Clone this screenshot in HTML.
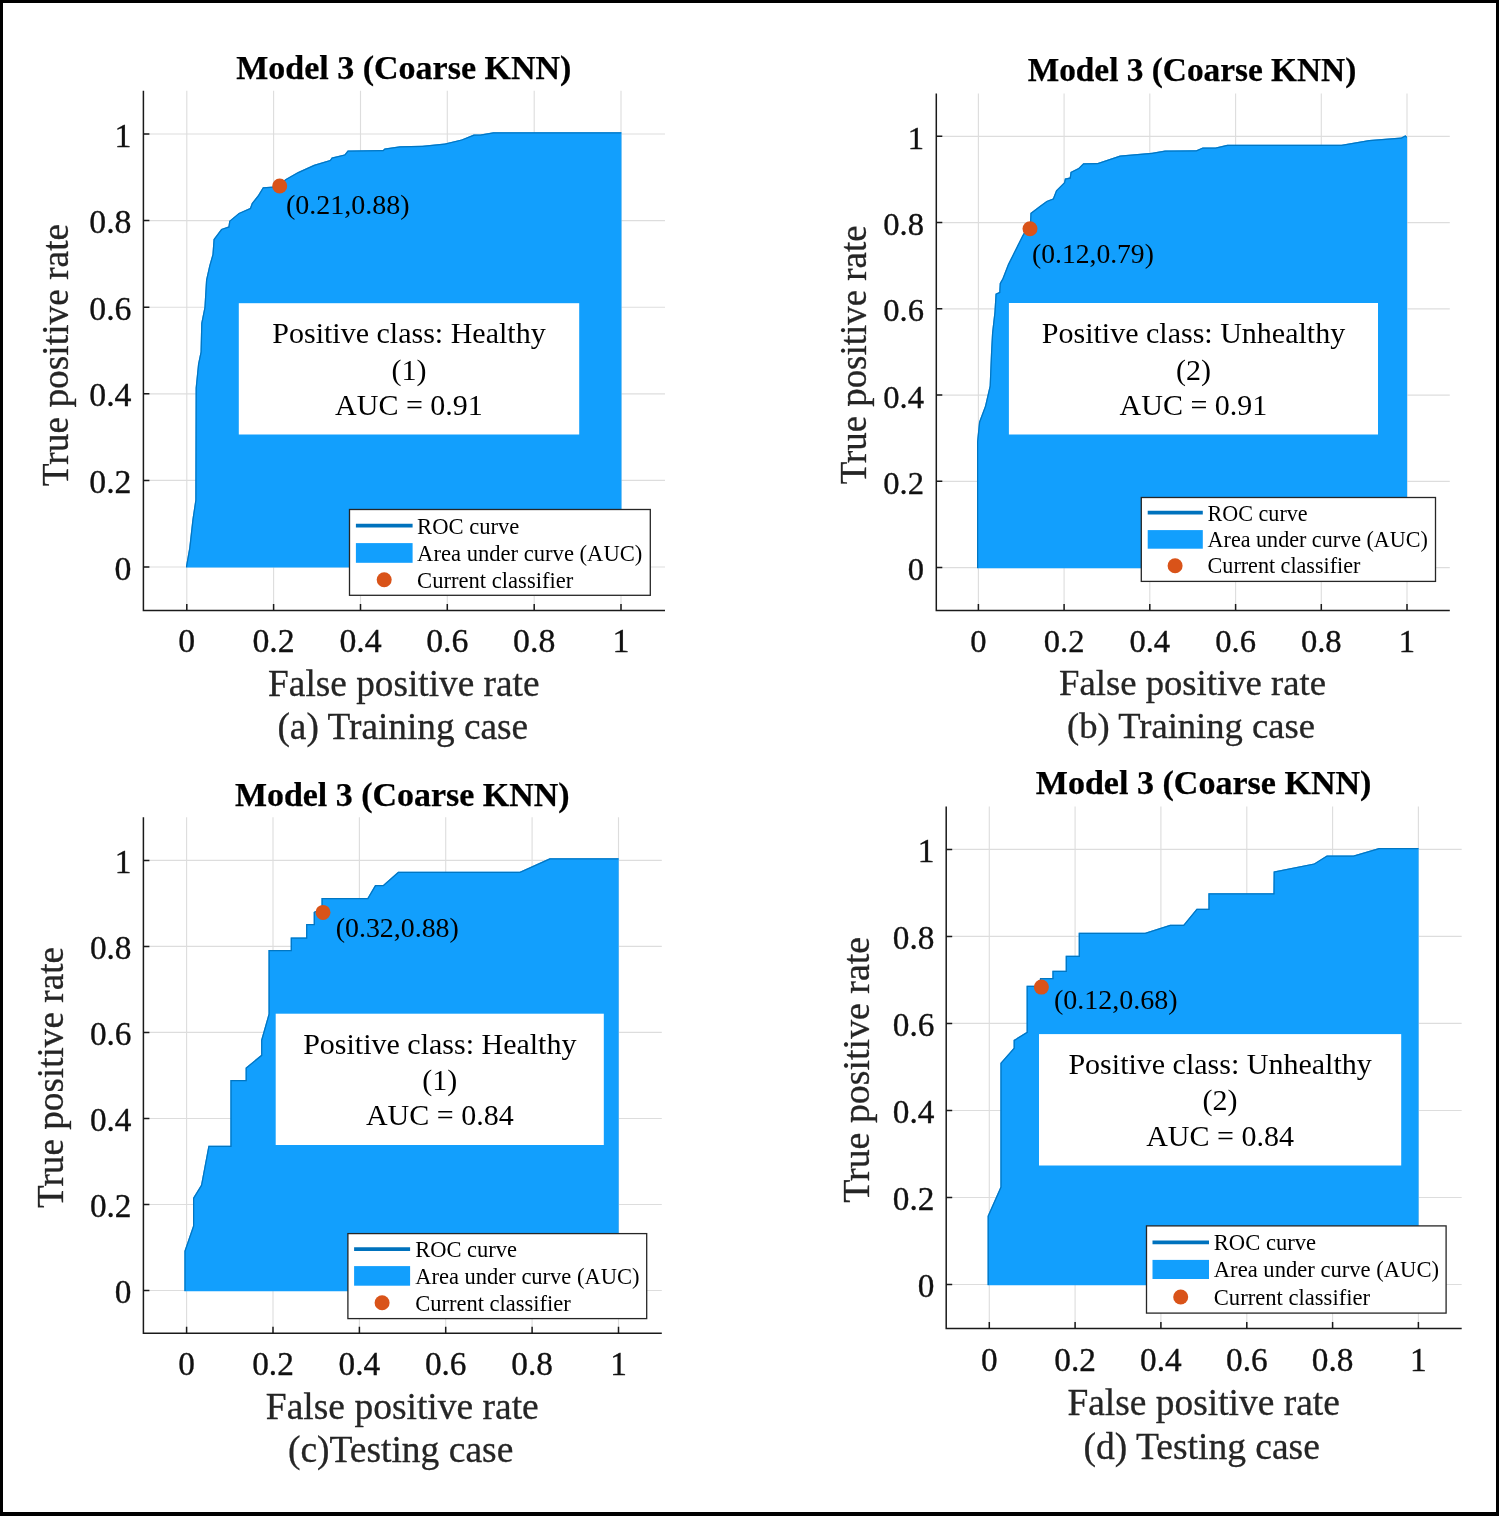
<!DOCTYPE html>
<html lang="en"><head><meta charset="utf-8"><title>ROC curves - Model 3 (Coarse KNN)</title>
<style>
html,body{margin:0;padding:0;background:#fff;}
body{width:1499px;height:1516px;overflow:hidden;}
#fig{position:relative;width:1499px;height:1516px;box-sizing:border-box;background:#fff;border-style:solid;border-color:#000;border-width:3px 3px 4px 3px;}
svg{position:absolute;left:-3px;top:-3px;display:block;}
text{font-family:"Liberation Serif", serif;}
.tk{fill:#111111;stroke:#111111;stroke-width:0.35;} .lb{fill:#252525;stroke:#252525;stroke-width:0.3;} .tt{fill:#000;font-weight:bold;stroke:#000;stroke-width:0.25;} .an{fill:#000;} .lg{fill:#000;}
.grid{stroke:#000;stroke-opacity:0.135;stroke-width:1.15;fill:none;} .ax{stroke:#1a1a1a;stroke-width:1.5;fill:none;}
</style></head><body>
<div id="fig">
<svg width="1499" height="1516" viewBox="0 0 1499 1516">
<g id="panel-a">
<path class="grid" d="M186.8 90.8V610.4M143.4 567H665M273.6 90.8V610.4M143.4 480.4H665M360.5 90.8V610.4M143.4 393.8H665M447.3 90.8V610.4M143.4 307.2H665M534.2 90.8V610.4M143.4 220.6H665M621 90.8V610.4M143.4 134H665"/>
<polygon points="186,567.6 186,566 189.2,548 192.4,519.3 195.3,500 195.6,388 198,364 200.5,352 201.2,323.3 204.4,307.3 206,280.1 209.2,265.7 212.4,254.5 213.5,239.3 221.2,228.9 228.4,226.5 229.2,220.9 238.8,212.9 250,208 251.7,203.3 258,195.2 262.9,187.2 274,186.4 279.7,184.5 285.3,179.2 298,172 314,164.8 330,160 331.7,157.6 344.5,154.4 347.7,150.4 383,150.1 384.5,148.5 400,146.3 422.4,145.7 444.8,143.5 461.6,139.4 473.8,134.5 480.3,134.5 493.4,132.3 621.5,132.3 621.5,567.6" fill="#129FFD"/>
<clipPath id="cp-a"><polygon points="186,567.6 186,566 189.2,548 192.4,519.3 195.3,500 195.6,388 198,364 200.5,352 201.2,323.3 204.4,307.3 206,280.1 209.2,265.7 212.4,254.5 213.5,239.3 221.2,228.9 228.4,226.5 229.2,220.9 238.8,212.9 250,208 251.7,203.3 258,195.2 262.9,187.2 274,186.4 279.7,184.5 285.3,179.2 298,172 314,164.8 330,160 331.7,157.6 344.5,154.4 347.7,150.4 383,150.1 384.5,148.5 400,146.3 422.4,145.7 444.8,143.5 461.6,139.4 473.8,134.5 480.3,134.5 493.4,132.3 621.5,132.3 621.5,567.6"/></clipPath>
<polyline points="186,567.6 186,566 189.2,548 192.4,519.3 195.3,500 195.6,388 198,364 200.5,352 201.2,323.3 204.4,307.3 206,280.1 209.2,265.7 212.4,254.5 213.5,239.3 221.2,228.9 228.4,226.5 229.2,220.9 238.8,212.9 250,208 251.7,203.3 258,195.2 262.9,187.2 274,186.4 279.7,184.5 285.3,179.2 298,172 314,164.8 330,160 331.7,157.6 344.5,154.4 347.7,150.4 383,150.1 384.5,148.5 400,146.3 422.4,145.7 444.8,143.5 461.6,139.4 473.8,134.5 480.3,134.5 493.4,132.3 621.5,132.3" fill="none" stroke="#0072BD" stroke-width="2.5" stroke-opacity="0.92" stroke-linejoin="miter" clip-path="url(#cp-a)"/>
<path class="ax" d="M143.4 90.8V610.4H665"/>
<path class="ax" stroke-width="1.3" d="M186.8 610.4v-6.5M143.4 567h6M273.6 610.4v-6.5M143.4 480.4h6M360.5 610.4v-6.5M143.4 393.8h6M447.3 610.4v-6.5M143.4 307.2h6M534.2 610.4v-6.5M143.4 220.6h6M621 610.4v-6.5M143.4 134h6"/>
<text class="tk" x="186.8" y="652.2" font-size="33.8" text-anchor="middle">0</text>
<text class="tk" x="273.6" y="652.2" font-size="33.8" text-anchor="middle">0.2</text>
<text class="tk" x="360.5" y="652.2" font-size="33.8" text-anchor="middle">0.4</text>
<text class="tk" x="447.3" y="652.2" font-size="33.8" text-anchor="middle">0.6</text>
<text class="tk" x="534.2" y="652.2" font-size="33.8" text-anchor="middle">0.8</text>
<text class="tk" x="621" y="652.2" font-size="33.8" text-anchor="middle">1</text>
<text class="tk" x="131.5" y="579.5" font-size="33.8" text-anchor="end">0</text>
<text class="tk" x="131.5" y="492.9" font-size="33.8" text-anchor="end">0.2</text>
<text class="tk" x="131.5" y="406.3" font-size="33.8" text-anchor="end">0.4</text>
<text class="tk" x="131.5" y="319.7" font-size="33.8" text-anchor="end">0.6</text>
<text class="tk" x="131.5" y="233.1" font-size="33.8" text-anchor="end">0.8</text>
<text class="tk" x="131.5" y="146.5" font-size="33.8" text-anchor="end">1</text>
<text class="tt" x="403.8" y="78.9" font-size="34.0" text-anchor="middle">Model 3 (Coarse KNN)</text>
<text class="lb" x="403.8" y="696.1" font-size="37.3" text-anchor="middle">False positive rate</text>
<text class="lb" x="402.8" y="738.9" font-size="37.3" text-anchor="middle">(a) Training case</text>
<text class="lb" transform="translate(67.9 355) rotate(-90)" font-size="37.4" text-anchor="middle">True positive rate</text>
<rect x="238.8" y="303.2" width="340.4" height="131.3" fill="#fff"/>
<text class="an" x="409" y="343.2" font-size="30.0" text-anchor="middle">Positive class: Healthy</text>
<text class="an" x="409" y="380" font-size="30.0" text-anchor="middle">(1)</text>
<text class="an" x="409" y="414.5" font-size="30.0" text-anchor="middle">AUC = 0.91</text>
<circle cx="279.7" cy="186" r="7.5" fill="#D95319"/>
<text class="an" x="286" y="214" font-size="28.0">(0.21,0.88)</text>
<rect x="349.5" y="509.5" width="300.8" height="85.8" fill="#fff" stroke="#262626" stroke-width="1.3"/>
<path d="M355.9 525.6H412.6" stroke="#0072BD" stroke-width="3.8" fill="none"/>
<rect x="355.9" y="543.1" width="56.7" height="19.7" fill="#129FFD"/>
<circle cx="384.2" cy="579.8" r="7.5" fill="#D95319"/>
<text class="lg" x="417.1" y="534" font-size="22.6">ROC curve</text>
<text class="lg" x="417.1" y="561.2" font-size="22.6">Area under curve (AUC)</text>
<text class="lg" x="417.1" y="588" font-size="22.6">Current classifier</text>
</g>
<g id="panel-b">
<path class="grid" d="M978.4 93.4V610.5M936.3 567.6H1449.8M1064.1 93.4V610.5M936.3 481.3H1449.8M1149.8 93.4V610.5M936.3 395.1H1449.8M1235.6 93.4V610.5M936.3 308.8H1449.8M1321.3 93.4V610.5M936.3 222.6H1449.8M1407 93.4V610.5M936.3 136.3H1449.8"/>
<polygon points="977,568.2 977,442 979,422 985,406 989.6,386 991,352 992,333 994.4,312.1 995.5,293.7 999.2,292.1 999.7,283.3 1002.4,278.5 1008,264.1 1014.4,251.3 1022.4,235.3 1030,222.5 1030.4,212.9 1040,205.7 1046.5,200.9 1052.9,198.5 1056,190.4 1064,182.4 1064.9,178.4 1069.7,177.6 1070.5,172 1078.5,168 1083.3,163.2 1097.7,162.9 1120,155.5 1152,152.8 1165,150.4 1196.3,150.2 1202.7,147.4 1215.5,147.4 1227.3,144.8 1341.5,144.8 1369.2,139.9 1401.2,137.4 1405.5,135.2 1407.1,137 1407.1,568.2" fill="#129FFD"/>
<clipPath id="cp-b"><polygon points="977,568.2 977,442 979,422 985,406 989.6,386 991,352 992,333 994.4,312.1 995.5,293.7 999.2,292.1 999.7,283.3 1002.4,278.5 1008,264.1 1014.4,251.3 1022.4,235.3 1030,222.5 1030.4,212.9 1040,205.7 1046.5,200.9 1052.9,198.5 1056,190.4 1064,182.4 1064.9,178.4 1069.7,177.6 1070.5,172 1078.5,168 1083.3,163.2 1097.7,162.9 1120,155.5 1152,152.8 1165,150.4 1196.3,150.2 1202.7,147.4 1215.5,147.4 1227.3,144.8 1341.5,144.8 1369.2,139.9 1401.2,137.4 1405.5,135.2 1407.1,137 1407.1,568.2"/></clipPath>
<polyline points="977,568.2 977,442 979,422 985,406 989.6,386 991,352 992,333 994.4,312.1 995.5,293.7 999.2,292.1 999.7,283.3 1002.4,278.5 1008,264.1 1014.4,251.3 1022.4,235.3 1030,222.5 1030.4,212.9 1040,205.7 1046.5,200.9 1052.9,198.5 1056,190.4 1064,182.4 1064.9,178.4 1069.7,177.6 1070.5,172 1078.5,168 1083.3,163.2 1097.7,162.9 1120,155.5 1152,152.8 1165,150.4 1196.3,150.2 1202.7,147.4 1215.5,147.4 1227.3,144.8 1341.5,144.8 1369.2,139.9 1401.2,137.4 1405.5,135.2 1407.1,137" fill="none" stroke="#0072BD" stroke-width="2.5" stroke-opacity="0.92" stroke-linejoin="miter" clip-path="url(#cp-b)"/>
<path class="ax" d="M936.3 93.4V610.5H1449.8"/>
<path class="ax" stroke-width="1.3" d="M978.4 610.5v-6.5M936.3 567.6h6M1064.1 610.5v-6.5M936.3 481.3h6M1149.8 610.5v-6.5M936.3 395.1h6M1235.6 610.5v-6.5M936.3 308.8h6M1321.3 610.5v-6.5M936.3 222.6h6M1407 610.5v-6.5M936.3 136.3h6"/>
<text class="tk" x="978.4" y="651.7" font-size="32.6" text-anchor="middle">0</text>
<text class="tk" x="1064.1" y="651.7" font-size="32.6" text-anchor="middle">0.2</text>
<text class="tk" x="1149.8" y="651.7" font-size="32.6" text-anchor="middle">0.4</text>
<text class="tk" x="1235.6" y="651.7" font-size="32.6" text-anchor="middle">0.6</text>
<text class="tk" x="1321.3" y="651.7" font-size="32.6" text-anchor="middle">0.8</text>
<text class="tk" x="1407" y="651.7" font-size="32.6" text-anchor="middle">1</text>
<text class="tk" x="924" y="580.1" font-size="32.6" text-anchor="end">0</text>
<text class="tk" x="924" y="493.8" font-size="32.6" text-anchor="end">0.2</text>
<text class="tk" x="924" y="407.6" font-size="32.6" text-anchor="end">0.4</text>
<text class="tk" x="924" y="321.3" font-size="32.6" text-anchor="end">0.6</text>
<text class="tk" x="924" y="235.1" font-size="32.6" text-anchor="end">0.8</text>
<text class="tk" x="924" y="148.8" font-size="32.6" text-anchor="end">1</text>
<text class="tt" x="1192" y="80.6" font-size="33.35" text-anchor="middle">Model 3 (Coarse KNN)</text>
<text class="lb" x="1192.5" y="695.3" font-size="36.7" text-anchor="middle">False positive rate</text>
<text class="lb" x="1191" y="737.7" font-size="36.6" text-anchor="middle">(b) Training case</text>
<text class="lb" transform="translate(865.6 354.9) rotate(-90)" font-size="36.9" text-anchor="middle">True positive rate</text>
<rect x="1008.9" y="303" width="369.1" height="131.5" fill="#fff"/>
<text class="an" x="1193.5" y="342.5" font-size="30.0" text-anchor="middle">Positive class: Unhealthy</text>
<text class="an" x="1193.5" y="380" font-size="30.0" text-anchor="middle">(2)</text>
<text class="an" x="1193.5" y="415.1" font-size="30.0" text-anchor="middle">AUC = 0.91</text>
<circle cx="1030" cy="228.7" r="7.5" fill="#D95319"/>
<text class="an" x="1032" y="262.8" font-size="27.6">(0.12,0.79)</text>
<rect x="1141.3" y="497.5" width="294.2" height="83.9" fill="#fff" stroke="#262626" stroke-width="1.3"/>
<path d="M1147.7 512.7H1202.8" stroke="#0072BD" stroke-width="3.8" fill="none"/>
<rect x="1147.7" y="530.1" width="55.1" height="18.6" fill="#129FFD"/>
<circle cx="1175.1" cy="565.7" r="7.5" fill="#D95319"/>
<text class="lg" x="1207.6" y="520.8" font-size="22.1">ROC curve</text>
<text class="lg" x="1207.6" y="547.4" font-size="22.1">Area under curve (AUC)</text>
<text class="lg" x="1207.6" y="573" font-size="22.1">Current classifier</text>
</g>
<g id="panel-c">
<path class="grid" d="M186.6 817.3V1333.3M143.4 1290.5H661.8M273 817.3V1333.3M143.4 1204.5H661.8M359.4 817.3V1333.3M143.4 1118.5H661.8M445.7 817.3V1333.3M143.4 1032.4H661.8M532.1 817.3V1333.3M143.4 946.4H661.8M618.5 817.3V1333.3M143.4 860.4H661.8"/>
<polygon points="184.4,1291.2 184.4,1251.1 193,1226.1 193,1198.1 201,1185.1 208.4,1145.7 230.4,1145.7 230.4,1080.1 245.6,1080.1 245.6,1067.7 261.1,1055.1 261.1,1040.1 268.5,1014.1 268.5,950.1 290.7,950.1 290.7,937.5 306.1,937.5 306.1,924 313.7,924 313.7,912 321.5,908 321.5,898 367.5,898 375.1,885 383.1,885 398.1,871.8 519.8,871.8 549.7,858.3 618.7,858.3 618.7,1291.2" fill="#129FFD"/>
<clipPath id="cp-c"><polygon points="184.4,1291.2 184.4,1251.1 193,1226.1 193,1198.1 201,1185.1 208.4,1145.7 230.4,1145.7 230.4,1080.1 245.6,1080.1 245.6,1067.7 261.1,1055.1 261.1,1040.1 268.5,1014.1 268.5,950.1 290.7,950.1 290.7,937.5 306.1,937.5 306.1,924 313.7,924 313.7,912 321.5,908 321.5,898 367.5,898 375.1,885 383.1,885 398.1,871.8 519.8,871.8 549.7,858.3 618.7,858.3 618.7,1291.2"/></clipPath>
<polyline points="184.4,1291.2 184.4,1251.1 193,1226.1 193,1198.1 201,1185.1 208.4,1145.7 230.4,1145.7 230.4,1080.1 245.6,1080.1 245.6,1067.7 261.1,1055.1 261.1,1040.1 268.5,1014.1 268.5,950.1 290.7,950.1 290.7,937.5 306.1,937.5 306.1,924 313.7,924 313.7,912 321.5,908 321.5,898 367.5,898 375.1,885 383.1,885 398.1,871.8 519.8,871.8 549.7,858.3 618.7,858.3" fill="none" stroke="#0072BD" stroke-width="2.5" stroke-opacity="0.92" stroke-linejoin="miter" clip-path="url(#cp-c)"/>
<path class="ax" d="M143.4 817.3V1333.3H661.8"/>
<path class="ax" stroke-width="1.3" d="M186.6 1333.3v-6.5M143.4 1290.5h6M273 1333.3v-6.5M143.4 1204.5h6M359.4 1333.3v-6.5M143.4 1118.5h6M445.7 1333.3v-6.5M143.4 1032.4h6M532.1 1333.3v-6.5M143.4 946.4h6M618.5 1333.3v-6.5M143.4 860.4h6"/>
<text class="tk" x="186.6" y="1374.7" font-size="33.3" text-anchor="middle">0</text>
<text class="tk" x="273" y="1374.7" font-size="33.3" text-anchor="middle">0.2</text>
<text class="tk" x="359.4" y="1374.7" font-size="33.3" text-anchor="middle">0.4</text>
<text class="tk" x="445.7" y="1374.7" font-size="33.3" text-anchor="middle">0.6</text>
<text class="tk" x="532.1" y="1374.7" font-size="33.3" text-anchor="middle">0.8</text>
<text class="tk" x="618.5" y="1374.7" font-size="33.3" text-anchor="middle">1</text>
<text class="tk" x="131.5" y="1303" font-size="33.3" text-anchor="end">0</text>
<text class="tk" x="131.5" y="1217" font-size="33.3" text-anchor="end">0.2</text>
<text class="tk" x="131.5" y="1131" font-size="33.3" text-anchor="end">0.4</text>
<text class="tk" x="131.5" y="1044.9" font-size="33.3" text-anchor="end">0.6</text>
<text class="tk" x="131.5" y="958.9" font-size="33.3" text-anchor="end">0.8</text>
<text class="tk" x="131.5" y="872.9" font-size="33.3" text-anchor="end">1</text>
<text class="tt" x="402.2" y="805.6" font-size="33.95" text-anchor="middle">Model 3 (Coarse KNN)</text>
<text class="lb" x="402.3" y="1418.7" font-size="37.5" text-anchor="middle">False positive rate</text>
<text class="lb" x="400.6" y="1461.6" font-size="37.5" text-anchor="middle">(c)Testing case</text>
<text class="lb" transform="translate(63 1077.5) rotate(-90)" font-size="37.2" text-anchor="middle">True positive rate</text>
<rect x="275.7" y="1013.7" width="328.1" height="131.3" fill="#fff"/>
<text class="an" x="439.8" y="1053.7" font-size="30.0" text-anchor="middle">Positive class: Healthy</text>
<text class="an" x="439.8" y="1090.2" font-size="30.0" text-anchor="middle">(1)</text>
<text class="an" x="439.8" y="1125.2" font-size="30.0" text-anchor="middle">AUC = 0.84</text>
<circle cx="323" cy="912.4" r="7.5" fill="#D95319"/>
<text class="an" x="335.7" y="937.1" font-size="27.9">(0.32,0.88)</text>
<rect x="347.9" y="1233.6" width="298.8" height="85" fill="#fff" stroke="#262626" stroke-width="1.3"/>
<path d="M354.1 1249.1H410.1" stroke="#0072BD" stroke-width="3.8" fill="none"/>
<rect x="354.1" y="1266.1" width="56" height="19.6" fill="#129FFD"/>
<circle cx="382.1" cy="1302.7" r="7.5" fill="#D95319"/>
<text class="lg" x="415.2" y="1256.9" font-size="22.5">ROC curve</text>
<text class="lg" x="415.2" y="1284.1" font-size="22.5">Area under curve (AUC)</text>
<text class="lg" x="415.2" y="1310.5" font-size="22.5">Current classifier</text>
</g>
<g id="panel-d">
<path class="grid" d="M989.3 806.6V1328.4M946.2 1284.5H1461.7M1075.1 806.6V1328.4M946.2 1197.5H1461.7M1160.9 806.6V1328.4M946.2 1110.5H1461.7M1246.8 806.6V1328.4M946.2 1023.4H1461.7M1332.6 806.6V1328.4M946.2 936.4H1461.7M1418.4 806.6V1328.4M946.2 849.4H1461.7"/>
<polygon points="987.6,1285.2 987.6,1216.1 1000.4,1187.1 1000.4,1063 1013.6,1048 1013.6,1040.1 1026.6,1032.1 1026.6,985.7 1039,985.7 1040,978.1 1052.4,978.1 1052.4,970.7 1065.7,970.7 1065.7,955.7 1078.7,955.7 1078.7,932.7 1145.1,932.7 1170.1,924.7 1183.5,924.7 1196.6,908.8 1208.4,908.8 1208.4,893.3 1273.4,893.3 1273.6,871.5 1314.1,863.4 1326.8,855.5 1353.4,855.5 1379,848.1 1418.6,848.1 1418.6,1285.2" fill="#129FFD"/>
<clipPath id="cp-d"><polygon points="987.6,1285.2 987.6,1216.1 1000.4,1187.1 1000.4,1063 1013.6,1048 1013.6,1040.1 1026.6,1032.1 1026.6,985.7 1039,985.7 1040,978.1 1052.4,978.1 1052.4,970.7 1065.7,970.7 1065.7,955.7 1078.7,955.7 1078.7,932.7 1145.1,932.7 1170.1,924.7 1183.5,924.7 1196.6,908.8 1208.4,908.8 1208.4,893.3 1273.4,893.3 1273.6,871.5 1314.1,863.4 1326.8,855.5 1353.4,855.5 1379,848.1 1418.6,848.1 1418.6,1285.2"/></clipPath>
<polyline points="987.6,1285.2 987.6,1216.1 1000.4,1187.1 1000.4,1063 1013.6,1048 1013.6,1040.1 1026.6,1032.1 1026.6,985.7 1039,985.7 1040,978.1 1052.4,978.1 1052.4,970.7 1065.7,970.7 1065.7,955.7 1078.7,955.7 1078.7,932.7 1145.1,932.7 1170.1,924.7 1183.5,924.7 1196.6,908.8 1208.4,908.8 1208.4,893.3 1273.4,893.3 1273.6,871.5 1314.1,863.4 1326.8,855.5 1353.4,855.5 1379,848.1 1418.6,848.1" fill="none" stroke="#0072BD" stroke-width="2.5" stroke-opacity="0.92" stroke-linejoin="miter" clip-path="url(#cp-d)"/>
<path class="ax" d="M946.2 806.6V1328.4H1461.7"/>
<path class="ax" stroke-width="1.3" d="M989.3 1328.4v-6.5M946.2 1284.5h6M1075.1 1328.4v-6.5M946.2 1197.5h6M1160.9 1328.4v-6.5M946.2 1110.5h6M1246.8 1328.4v-6.5M946.2 1023.4h6M1332.6 1328.4v-6.5M946.2 936.4h6M1418.4 1328.4v-6.5M946.2 849.4h6"/>
<text class="tk" x="989.3" y="1370.5" font-size="33.3" text-anchor="middle">0</text>
<text class="tk" x="1075.1" y="1370.5" font-size="33.3" text-anchor="middle">0.2</text>
<text class="tk" x="1160.9" y="1370.5" font-size="33.3" text-anchor="middle">0.4</text>
<text class="tk" x="1246.8" y="1370.5" font-size="33.3" text-anchor="middle">0.6</text>
<text class="tk" x="1332.6" y="1370.5" font-size="33.3" text-anchor="middle">0.8</text>
<text class="tk" x="1418.4" y="1370.5" font-size="33.3" text-anchor="middle">1</text>
<text class="tk" x="934.4" y="1297" font-size="33.3" text-anchor="end">0</text>
<text class="tk" x="934.4" y="1210" font-size="33.3" text-anchor="end">0.2</text>
<text class="tk" x="934.4" y="1123" font-size="33.3" text-anchor="end">0.4</text>
<text class="tk" x="934.4" y="1035.9" font-size="33.3" text-anchor="end">0.6</text>
<text class="tk" x="934.4" y="948.9" font-size="33.3" text-anchor="end">0.8</text>
<text class="tk" x="934.4" y="861.9" font-size="33.3" text-anchor="end">1</text>
<text class="tt" x="1203.6" y="793.6" font-size="34.05" text-anchor="middle">Model 3 (Coarse KNN)</text>
<text class="lb" x="1203.6" y="1414.5" font-size="37.45" text-anchor="middle">False positive rate</text>
<text class="lb" x="1201.7" y="1458.5" font-size="37.5" text-anchor="middle">(d) Testing case</text>
<text class="lb" transform="translate(868.8 1069.8) rotate(-90)" font-size="37.9" text-anchor="middle">True positive rate</text>
<rect x="1039" y="1034.1" width="362.2" height="131.4" fill="#fff"/>
<text class="an" x="1220.1" y="1073.7" font-size="30.0" text-anchor="middle">Positive class: Unhealthy</text>
<text class="an" x="1220.1" y="1110" font-size="30.0" text-anchor="middle">(2)</text>
<text class="an" x="1220.1" y="1146.1" font-size="30.0" text-anchor="middle">AUC = 0.84</text>
<circle cx="1041.4" cy="987.1" r="7.5" fill="#D95319"/>
<text class="an" x="1054" y="1009.2" font-size="28.0">(0.12,0.68)</text>
<rect x="1146.5" y="1225.9" width="299.6" height="87.2" fill="#fff" stroke="#262626" stroke-width="1.3"/>
<path d="M1152.5 1242.3H1209" stroke="#0072BD" stroke-width="3.8" fill="none"/>
<rect x="1152.5" y="1259.9" width="56.5" height="19.1" fill="#129FFD"/>
<circle cx="1180.7" cy="1297" r="7.5" fill="#D95319"/>
<text class="lg" x="1213.8" y="1249.8" font-size="22.6">ROC curve</text>
<text class="lg" x="1213.8" y="1277.4" font-size="22.6">Area under curve (AUC)</text>
<text class="lg" x="1213.8" y="1304.7" font-size="22.6">Current classifier</text>
</g>
</svg></div></body></html>
